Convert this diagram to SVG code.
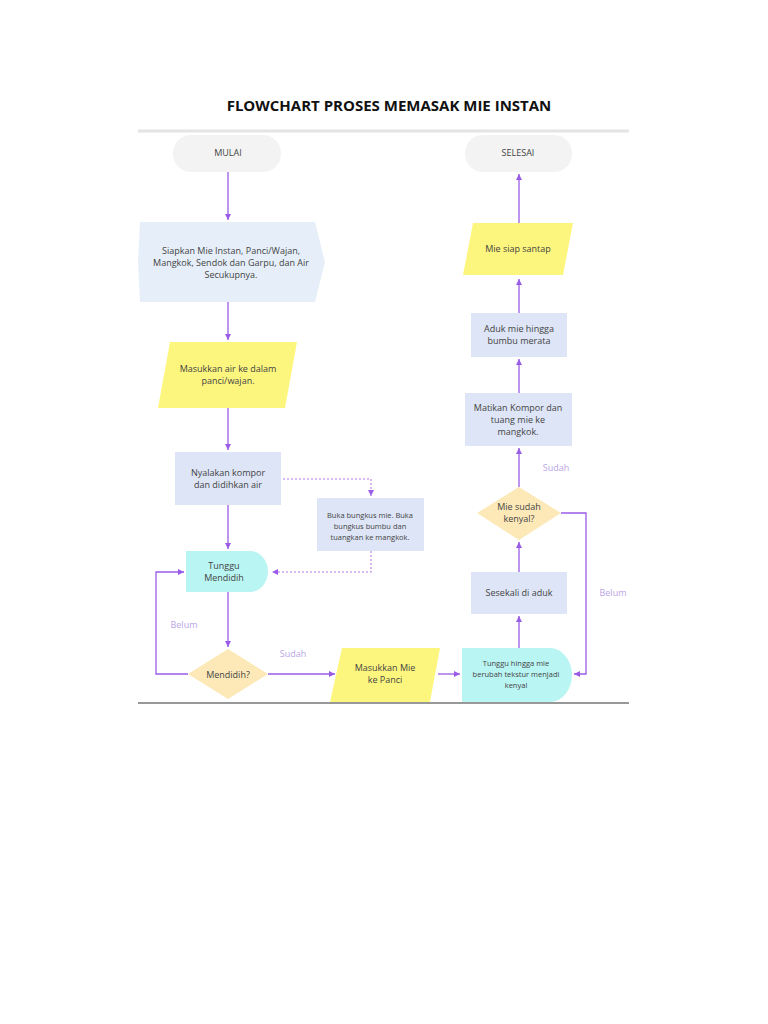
<svg xmlns="http://www.w3.org/2000/svg" width="768" height="1024" viewBox="0 0 768 1024">
<style>
.t{font-family:"Open Sans","Liberation Sans",sans-serif;font-size:9px;fill:#444;text-anchor:middle}
.s{font-size:7.5px}
.lab{font-family:"Open Sans","Liberation Sans",sans-serif;font-size:9px;fill:#b9a6e6;text-anchor:middle}
.c{stroke:#9a5ce6;stroke-width:1.3;fill:none}
.d{stroke:#b77be6;stroke-width:1.1;fill:none;stroke-dasharray:2 2}
</style>
<defs><marker id="a" markerWidth="8" markerHeight="8" refX="6" refY="4" orient="auto" markerUnits="userSpaceOnUse"><path d="M0,1 L6,4 L0,7z" fill="#9a5ce6"/></marker></defs>
<rect width="768" height="1024" fill="#fff"/>
<text x="389" y="111" font-family="'Open Sans','Liberation Sans',sans-serif" font-size="15" font-weight="bold" text-anchor="middle" fill="#111">FLOWCHART PROSES MEMASAK MIE INSTAN</text>
<line x1="138" y1="131" x2="629" y2="131" stroke="#e4e4e4" stroke-width="3"/>
<line x1="138" y1="703" x2="629" y2="703" stroke="#333" stroke-width="1.2"/>
<g id="mulai"><rect x="173" y="135" width="108" height="37" rx="18" fill="#f3f3f3"/><text class="t" x="228" y="156">MULAI</text></g>
<g id="siapkan"><path d="M140,222 L315,222 L325,262 L315,302 L140,302 L138,262z" fill="#e6eff9"/><text class="t" x="231" y="254">Siapkan Mie Instan, Panci/Wajan,</text><text class="t" x="231" y="266">Mangkok, Sendok dan Garpu, dan Air</text><text class="t" x="231" y="278">Secukupnya.</text></g>
<g id="air"><path d="M170,342 L297,342 L285,408 L158,408z" fill="#fdf67e"/><text class="t" x="228" y="372">Masukkan air ke dalam</text><text class="t" x="228" y="384">panci/wajan.</text></g>
<g id="nyalakan"><rect x="175" y="452" width="106" height="53" fill="#dde5f6"/><text class="t" x="228" y="476">Nyalakan kompor</text><text class="t" x="228" y="488">dan didihkan air</text></g>
<g id="buka"><rect x="317" y="498" width="107" height="53" fill="#dde5f6"/><text class="t s" x="370" y="518">Buka bungkus mie. Buka</text><text class="t s" x="370" y="529">bungkus bumbu dan</text><text class="t s" x="370" y="540">tuangkan ke mangkok.</text></g>
<g id="tunggu"><path d="M186,551 L250,551 A18,20.5 0 0 1 250,592 L186,592z" fill="#b9f5f3"/><text class="t" x="224" y="569">Tunggu</text><text class="t" x="224" y="581">Mendidih</text></g>
<g id="mendidih"><path d="M228,649 L268,674 L228,699 L188,674z" fill="#fde9b8"/><text class="t" x="228" y="678">Mendidih?</text></g>
<g id="masukkanmie"><path d="M342,648 L440,648 L430,702 L330,702z" fill="#fdf67e"/><text class="t" x="385" y="671">Masukkan Mie</text><text class="t" x="385" y="683">ke Panci</text></g>
<g id="tunggu2"><path d="M462,648 L550,648 A22,27 0 0 1 550,702 L462,702z" fill="#b9f5f3"/><text class="t s" x="516" y="666">Tunggu hingga mie</text><text class="t s" x="516" y="677">berubah tekstur menjadi</text><text class="t s" x="516" y="688">kenyal</text></g>
<g id="sesekali"><rect x="471" y="572" width="96" height="42" fill="#dde5f6"/><text class="t" x="519" y="596">Sesekali di aduk</text></g>
<g id="kenyal"><path d="M519,487 L561,513 L519,540 L477,513z" fill="#fde9b8"/><text class="t" x="519" y="510">Mie sudah</text><text class="t" x="519" y="522">kenyal?</text></g>
<g id="matikan"><rect x="465" y="393" width="107" height="53" fill="#dde5f6"/><text class="t" x="518" y="411">Matikan Kompor dan</text><text class="t" x="518" y="423">tuang mie ke</text><text class="t" x="518" y="435">mangkok.</text></g>
<g id="aduk"><rect x="471" y="313" width="96" height="44" fill="#dde5f6"/><text class="t" x="519" y="332">Aduk mie hingga</text><text class="t" x="519" y="344">bumbu merata</text></g>
<g id="siap"><path d="M473,223 L573,223 L563,275 L463,275z" fill="#fdf67e"/><text class="t" x="518" y="252">Mie siap santap</text></g>
<g id="selesai"><rect x="465" y="135" width="107" height="37" rx="18" fill="#f3f3f3"/><text class="t" x="518" y="156">SELESAI</text></g>
<g id="connectors">
<path class="c" d="M228,172 V220" marker-end="url(#a)"/>
<path class="c" d="M228,302 V340" marker-end="url(#a)"/>
<path class="c" d="M228,408 V450" marker-end="url(#a)"/>
<path class="d" d="M283,479 H371 V496" marker-end="url(#a)"/>
<path class="d" d="M371,551 V572 H272" marker-end="url(#a)"/>
<path class="c" d="M228,505 V549" marker-end="url(#a)"/>
<path class="c" d="M228,592 V647" marker-end="url(#a)"/>
<path class="c" d="M188,674 H156 V572 H184" marker-end="url(#a)"/>
<path class="c" d="M268,674 H335" marker-end="url(#a)"/>
<path class="c" d="M438,674 H460" marker-end="url(#a)"/>
<path class="c" d="M519,648 V616" marker-end="url(#a)"/>
<path class="c" d="M519,572 V542" marker-end="url(#a)"/>
<path class="c" d="M519,487 V448" marker-end="url(#a)"/>
<path class="c" d="M519,393 V359" marker-end="url(#a)"/>
<path class="c" d="M519,313 V279" marker-end="url(#a)"/>
<path class="c" d="M519,223 V174" marker-end="url(#a)"/>
<path class="c" d="M561,513 H586 V674 H574" marker-end="url(#a)"/>
<text class="lab" x="184" y="628">Belum</text>
<text class="lab" x="293" y="657">Sudah</text>
<text class="lab" x="556" y="471">Sudah</text>
<text class="lab" x="613" y="596">Belum</text>
</g>
</svg>
